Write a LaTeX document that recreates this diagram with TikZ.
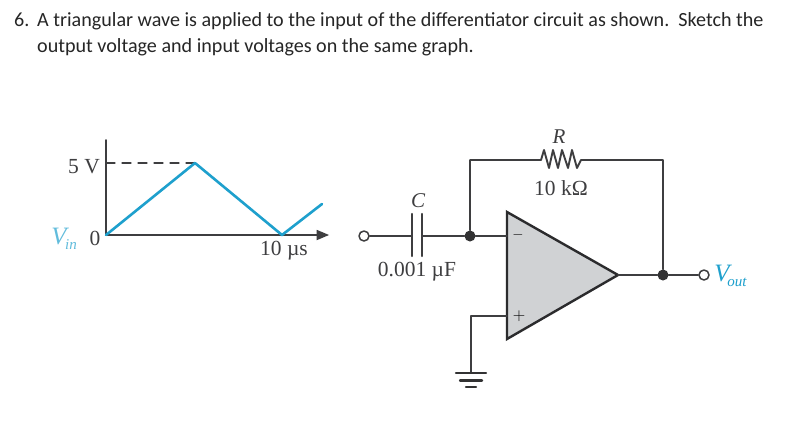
\documentclass[tikz,border=0pt]{standalone}
\usepackage{fontspec}
\setmainfont{Liberation Serif}
\newfontfamily\promptfont{Carlito}
\usetikzlibrary{arrows}
\definecolor{wire}{RGB}{62,62,64}
\definecolor{wave}{RGB}{30,160,205}
\definecolor{ampfill}{RGB}{208,210,212}
\tikzset{
  prompt/.style={anchor=base west,inner sep=0pt,font=\promptfont\fontsize{20.1}{22}\selectfont,text=black!85},
  lab/.style={inner sep=0pt,text=wire,font=\fontsize{21.5}{24}\selectfont},
  itlab/.style={inner sep=0pt,text=wire,font=\itshape\fontsize{21}{24}\selectfont},
  signlab/.style={inner sep=0pt,text=black},
  wavelab/.style={inner sep=0pt,text=wave,font=\itshape\fontsize{25}{27}\selectfont},
  sublab/.style={inner sep=0pt,text=wave,font=\itshape\fontsize{15}{17}\selectfont},
  wireline/.style={draw=wire,line width=1.9pt},
  dotnode/.style={circle,fill=wire!80!black,inner sep=0pt,minimum size=11pt},
  termnode/.style={circle,draw=wire,line width=1.5pt,fill=white,inner sep=0pt,minimum size=10pt}
}
\begin{document}
\begin{tikzpicture}[line cap=round,line join=round,>=triangle 45,x=1pt,y=-1pt]
\useasboundingbox (0,0) rectangle (792,421);
\fill[white] (0,0) rectangle (792,421);

% question text
\node[prompt] (num) at (14,26) {6.};
\node[prompt] (line1) at (37,26) {A triangular wave is applied to the input of the differentiator circuit as shown.\ \ Sketch the};
\node[prompt] (line2) at (37,52) {output voltage and input voltages on the same graph.};

% input graph
\coordinate (origin) at (106,235);
\coordinate (axtop) at (106,140);
\coordinate (axend) at (329,235);
\coordinate (peak) at (195,163);
\coordinate (tick) at (106,163);
\coordinate (low) at (282,235);
\coordinate (wavend) at (322,204);
\draw[wireline] (axtop)--(origin);
\draw[wireline,->] (origin)--(axend);
\draw[wire,line width=1.3pt,dash pattern=on 9pt off 7pt] (tick)--(peak);
\draw[wave,line width=2.6pt] (origin)--(peak)--(low)--(wavend);
\node[lab] (fivev) at (84,167) {5 V};
\node[lab] (zero) at (95,238) {0};
\node[wavelab,text=wave!70!white] (vin) at (59,236) {V};
\node[sublab,text=wave!70!white] (vinsub) at (71,245) {in};
\node[lab] (tenus) at (284,251) {10 µs};

% input and capacitor
\node[termnode] (vinterm) at (364,236) {};
\coordinate (platel) at (412,236);
\coordinate (plater) at (422,236);
\node[dotnode] (invj) at (470,236) {};
\draw[wireline] (vinterm)--(platel);
\draw[wireline] (plater)--(invj);
\draw[wireline,line width=2.2pt] (412,214)--(412,256);
\draw[wireline,line width=2.2pt] (422,214)--(422,256);
\node[itlab] (clab) at (418,201) {C};
\node[lab] (cval) at (417,272) {0.001 µF};

% op amp
\coordinate (ampa) at (507,212);
\coordinate (ampb) at (507,339);
\coordinate (ampc) at (618,275);
\filldraw[fill=ampfill,draw=wire!70!black,line width=2.4pt,line join=miter] (ampa)--(ampb)--(ampc)--cycle;
\coordinate (minusin) at (507,236);
\coordinate (plusin) at (507,316);
\node[signlab,font=\fontsize{15}{16}\selectfont] (minus) at (518,235) {$-$};
\node[signlab,font=\fontsize{19}{20}\selectfont] (plus) at (519,316) {$+$};
\draw[wireline] (invj)--(minusin);

% feedback
\node[dotnode] (outj) at (663,275) {};
\node[termnode] (voutterm) at (704,275) {};
\coordinate (fbl) at (470,160);
\coordinate (fbr) at (663,160);
\draw[wireline] (invj)--(fbl)--(541,160)--(544,150)--(549,168)--(553,150)--(558,168)--(562,150)--(568,168)--(572,150)--(577,168)--(581,160)--(fbr)--(outj);
\node[itlab] (rlab) at (559,137) {R};
\node[lab] (rval) at (561,188) {10 kΩ};
\draw[wireline] (ampc)--(outj);
\draw[wireline] (outj)--(voutterm);
\node[wavelab] (vout) at (722,273) {V};
\node[sublab] (voutsub) at (737,282) {out};

% ground
\coordinate (gndtop) at (471,316);
\coordinate (gnd) at (471,373);
\draw[wireline] (plusin)--(gndtop)--(gnd);
\draw[wire!80!black,line width=2.4pt] (456,373)--(486,373);
\draw[wire!80!black,line width=2.4pt] (460,380.5)--(482,380.5);
\draw[wire!80!black,line width=2.4pt] (466,387)--(476,387);

\end{tikzpicture}
\end{document}
